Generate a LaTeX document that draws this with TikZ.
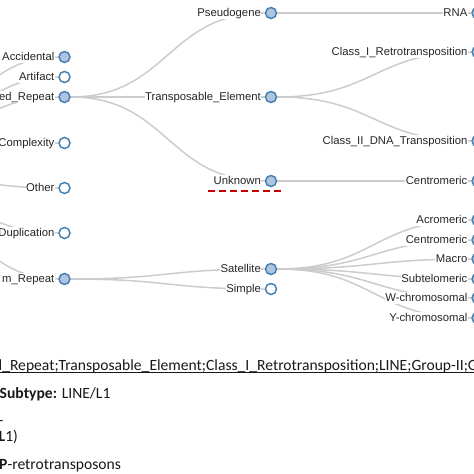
\documentclass[tikz,border=0pt]{standalone}
\usepackage{fontspec}
\setmainfont{Liberation Sans}
\newfontfamily\notefont{Carlito}
\usetikzlibrary{positioning,backgrounds}
\definecolor{nodeline}{HTML}{4682B4}
\definecolor{nodefill}{HTML}{B0C4DE}
\definecolor{linkgray}{HTML}{CCCCCC}
\definecolor{flagred}{HTML}{C00000}
\tikzset{
  leaf/.style={circle,draw=nodeline,fill=white,line width=1.5pt,minimum size=11pt,inner sep=0pt},
  fold/.style={leaf,fill=nodefill},
  tag/.style={font=\fontsize{11.3}{13}\selectfont,text=black!85,fill=white,inner sep=0.5pt,text height=8.5pt,text depth=2.5pt},
  link/.style={draw=linkgray,line width=1.5pt},
  flag/.style={draw=flagred,line width=2pt,dash pattern=on 7pt off 4pt},
  note/.style={font=\notefont\fontsize{15.6}{18}\selectfont,anchor=base west,inner sep=0pt,text=black!90},
}
\begin{document}
\begin{tikzpicture}[x=1pt,y=-1pt]
\useasboundingbox (0,0) rectangle (474,474);
\clip (0,0) rectangle (474,474);
% first level
\coordinate (root) at (-142,168);
\node[fold] (ac) at (64.5,57) {};
\node[leaf] (ar) at (64.5,77) {};
\node[fold] (ir) at (64.5,97) {};
\node[leaf] (lc) at (64.5,143) {};
\node[leaf] (ot) at (64.5,188) {};
\node[leaf] (sd) at (64.5,233) {};
\node[fold] (tr) at (64.5,279) {};
\node[tag,left=3.2pt of ac] {Accidental};
\node[tag,left=3.2pt of ar] {Artifact};
\node[tag,left=3.2pt of ir] {ed\_Repeat};
\node[tag,left=3.2pt of lc] {Complexity};
\node[tag,left=3.2pt of ot] {Other};
\node[tag,left=3.2pt of sd] {Duplication};
\node[tag,left=3.2pt of tr] {m\_Repeat};
% second level
\node[fold] (ps) at (271,13) {};
\node[fold] (te) at (271,97) {};
\node[fold] (un) at (271,181) {};
\node[fold] (sa) at (271,269) {};
\node[leaf] (si) at (271,289) {};
\node[tag,left=3.2pt of ps] {Pseudogene};
\node[tag,left=3.2pt of te] {Transposable\_Element};
\node[tag,left=3.2pt of un] {Unknown};
\node[tag,left=3.2pt of sa] {Satellite};
\node[tag,left=3.2pt of si] {Simple};
% third level
\node[fold] (rna) at (477.5,13) {};
\node[fold] (cl1) at (477.5,52) {};
\node[fold] (cl2) at (477.5,141) {};
\node[fold] (ce) at (477.5,181) {};
\node[fold] (acr) at (477.5,220) {};
\node[fold] (cen) at (477.5,240) {};
\node[fold] (mac) at (477.5,259) {};
\node[fold] (sub) at (477.5,279) {};
\node[fold] (wch) at (477.5,298) {};
\node[fold] (ych) at (477.5,318) {};
\node[tag,left=3.2pt of rna] {RNA};
\node[tag,left=3.2pt of cl1] {Class\_I\_Retrotransposition};
\node[tag,left=3.2pt of cl2] {Class\_II\_DNA\_Transposition};
\node[tag,left=3.2pt of ce] {Centromeric};
\node[tag,left=3.2pt of acr] {Acromeric};
\node[tag,left=3.2pt of cen] {Centromeric};
\node[tag,left=3.2pt of mac] {Macro};
\node[tag,left=3.2pt of sub] {Subtelomeric};
\node[tag,left=3.2pt of wch] {W-chromosomal};
\node[tag,left=3.2pt of ych] {Y-chromosomal};
% links
\begin{scope}[on background layer]
\clip (0,0) rectangle (474,474);
\foreach \a/\b in {root/ac,root/ar,root/ir,root/lc,root/ot,root/sd,root/tr,
  ir/ps,ir/te,ir/un,tr/sa,tr/si,ps/rna,te/cl1,te/cl2,un/ce,
  sa/acr,sa/cen,sa/mac,sa/sub,sa/wch,sa/ych}
  \draw[link] (\a) .. controls +(103.25,0) and +(-103.25,0) .. (\b);
\end{scope}
\draw[flag] ([shift={(-63,10)}]un.center) -- ([shift={(11,10)}]un.center);
% text below
\node[note] (lineage) at (-1.5,370) {l\_Repeat;Transposable\_Element;Class\_I\_Retrotransposition;LINE;Group-II;G};
\draw[black!90,line width=0.8pt] ([yshift=-2.5pt]lineage.base west) -- ([yshift=-2.5pt]lineage.base east);
\node[note] (subtype) at (-0.5,398) {\textbf{Subtype:} LINE/L1};
\node[note] (dash) at (-1.5,425) {-};
\node[note] (lone) at (-1.5,441) {\textbf{L}1)};
\node[note] (retro) at (-1,469) {\textbf{P}-retrotransposons};
\end{tikzpicture}
\end{document}
